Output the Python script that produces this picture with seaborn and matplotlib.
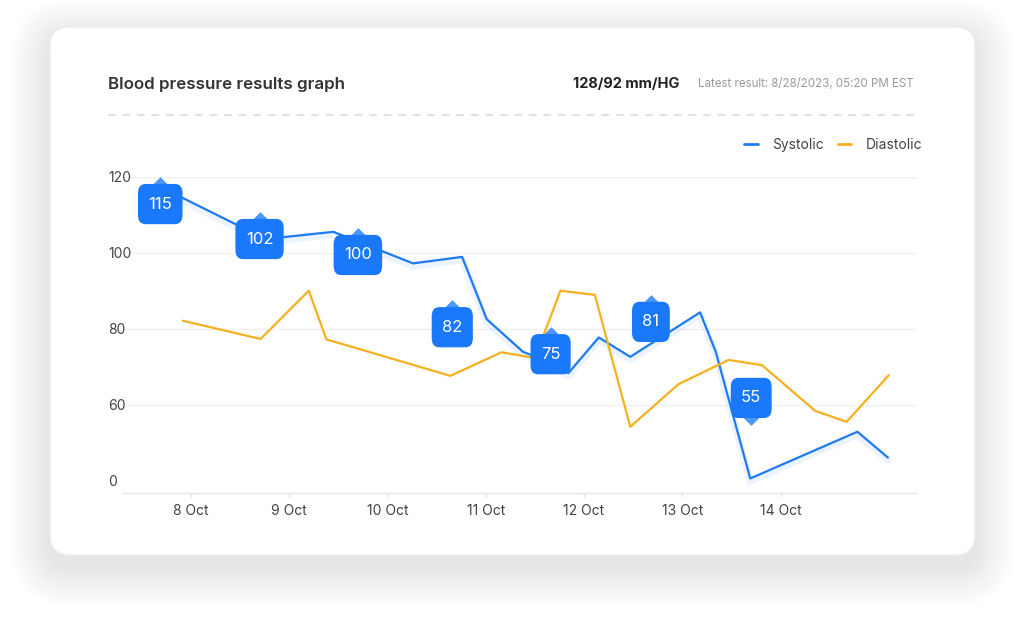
import matplotlib
matplotlib.use('Agg')
import matplotlib.pyplot as plt
import matplotlib.patheffects as pe
from matplotlib.patches import FancyBboxPatch
from matplotlib.transforms import offset_copy
import pandas as pd
import seaborn as sns

# data (x = day of October)
sys_day = [7.67, 8.76, 9.45, 10.26, 10.76, 11.01, 11.38, 11.63, 11.84, 12.15, 12.47, 13.18, 13.34, 13.69, 14.78, 15.09]
sys_val = [117.6, 103.6, 105.5, 97.2, 98.9, 82.5, 73.9, 71.5, 68.3, 77.7, 72.6, 84.3, 73.9, 40.6, 52.9, 46.1]
dia_day = [7.92, 8.71, 9.20, 9.38, 10.64, 11.16, 11.50, 11.76, 12.11, 12.47, 12.96, 13.47, 13.81, 14.35, 14.67, 15.10]
dia_val = [82.1, 77.3, 90.0, 77.2, 67.6, 73.8, 72.3, 90.0, 88.9, 54.2, 65.4, 71.8, 70.4, 58.4, 55.5, 67.8]

badge_day = [7.69, 8.70, 9.70, 10.66, 11.66, 12.68, 13.70]
badge_val = [112.8, 103.6, 99.4, 80.4, 73.3, 81.8, 61.8]
badge_text = ['115', '102', '100', '82', '75', '81', '55']
badge_down = [False, False, False, False, False, False, True]

x_ticks = [8, 9, 10, 11, 12, 13, 14]
x_labels = ['8 Oct', '9 Oct', '10 Oct', '11 Oct', '12 Oct', '13 Oct', '14 Oct']
y_ticks = [40, 60, 80, 100, 120]
y_labels = ['0', '60', '80', '100', '120']

BLUE = '#1f7bf4'
YELLOW = '#f5b01f'
BADGE = '#1a78fb'
POINTER = '#4b97f9'

sns.set_theme(style='white')
plt.rcParams['font.family'] = ['Inter', 'DejaVu Sans']

fig = plt.figure(figsize=(10.24, 6.29), dpi=100)
fig.patch.set_facecolor('white')

# background card drawn in pixel coordinates
bg = fig.add_axes([0, 0, 1, 1], zorder=0)
bg.set_xlim(0, 1024)
bg.set_ylim(629, 0)
bg.axis('off')

for i in range(1, 26):
    e = i * 1.6
    bg.add_patch(FancyBboxPatch((50 - e, 27 - e + 12), 925 + 2 * e, 528 + 2 * e,
                                boxstyle=f'round,pad=0,rounding_size={20 + e}',
                                fc='black', ec='none', alpha=0.004))
bg.add_patch(FancyBboxPatch((50, 27), 925, 528, boxstyle='round,pad=0,rounding_size=20',
                            fc='white', ec='#ececec', lw=0.8))

bg.text(108, 84, 'Blood pressure results graph', ha='left', va='center',
        fontsize=12.2, fontweight='semibold', color='#333333')
bg.text(573, 84, '128/92 mm/HG', ha='left', va='center',
        fontsize=10.5, fontweight='bold', color='#222222')
bg.text(914, 84, 'Latest result: 8/28/2023, 05:20 PM EST', ha='right', va='center',
        fontsize=8.3, color='#9a9a9a')
bg.plot([108, 917], [115, 115], color='#d9d9d9', lw=1.1, dashes=(5, 4.5))

# main chart
ax = fig.add_axes([122 / 1024, 1 - 493.3 / 629, 795 / 1024, 316.6 / 629], zorder=2)
ax.patch.set_alpha(0)

df = pd.concat([
    pd.DataFrame({'day': sys_day, 'value': sys_val, 'series': 'Systolic'}),
    pd.DataFrame({'day': dia_day, 'value': dia_val, 'series': 'Diastolic'}),
])
sns.lineplot(data=df, x='day', y='value', hue='series', estimator=None, sort=False,
             palette={'Systolic': BLUE, 'Diastolic': YELLOW}, linewidth=1.6, ax=ax)

ax.lines[0].set_path_effects([
    pe.SimpleLineShadow(offset=(0, -2), shadow_color=BLUE, alpha=0.09, linewidth=5),
    pe.Normal(),
])

ax.set_xlim(7.301, 15.386)
ax.set_ylim(36.7, 120)
ax.set_xticks(x_ticks)
ax.set_xticklabels(x_labels)
ax.set_yticks(y_ticks)
ax.set_yticklabels(y_labels)
ax.set_xlabel('')
ax.set_ylabel('')

for v in [60, 80, 100, 120]:
    ax.axhline(v, color='#f0f0f0', lw=1, zorder=0)

for s in ['top', 'right', 'left']:
    ax.spines[s].set_visible(False)
ax.spines['bottom'].set_color('#e6e6e6')
ax.spines['bottom'].set_linewidth(1)

ax.tick_params(axis='x', length=3, width=0.8, color='#e0e0e0', pad=5,
               labelsize=10, labelcolor='#444444', bottom=True, direction='out')
ax.tick_params(axis='y', length=0, pad=10.1, labelsize=10, labelcolor='#444444')
for lab in ax.get_yticklabels():
    lab.set_horizontalalignment('left')

# value badges with a flat pointer on top (or below)
tri_up = [(-1, 0), (1, 0), (0, 1), (-1, 0)]
tri_down = [(-1, 0), (1, 0), (0, -1), (-1, 0)]
up = offset_copy(ax.transData, fig=fig, x=0, y=19, units='dots')
down = offset_copy(ax.transData, fig=fig, x=0, y=-19, units='dots')
for d, v, t, dn in zip(badge_day, badge_val, badge_text, badge_down):
    ax.plot(d, v, marker=tri_down if dn else tri_up, ms=12, color=POINTER, mec='none',
            transform=down if dn else up, zorder=5, clip_on=False)
    ax.annotate(t, xy=(d, v), ha='center', va='center', fontsize=12, color='white',
                zorder=6, annotation_clip=False,
                bbox=dict(boxstyle='round,pad=0.62,rounding_size=0.45', fc=BADGE, ec='none',
                          mutation_aspect=1.22))

leg = ax.legend(loc='center right', bbox_to_anchor=(922 / 1024, 1 - 145 / 629),
                bbox_transform=fig.transFigure, ncol=2, frameon=False, fontsize=10,
                handlelength=1.0, handletextpad=1.0, columnspacing=1.0,
                borderpad=0, borderaxespad=0)
for txt in leg.get_texts():
    txt.set_color('#444444')
for h in leg.get_lines():
    h.set_linewidth(2)
    h.set_path_effects([])

fig.savefig('out.png', dpi=100, facecolor='white')
